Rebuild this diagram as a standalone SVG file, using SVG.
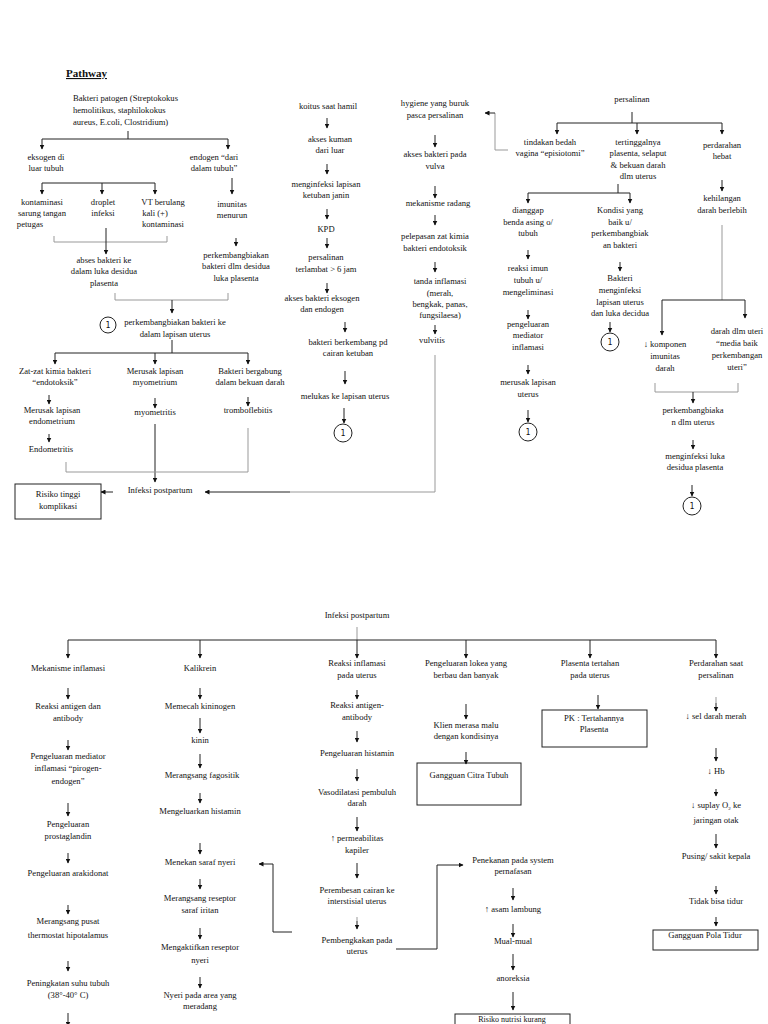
<svg xmlns="http://www.w3.org/2000/svg" width="768" height="1024" viewBox="0 0 768 1024">
<style>
text{font-family:"Liberation Serif","Times New Roman",serif;font-size:8.6px;fill:#111;text-anchor:middle}
.l{text-anchor:start}
.c path,.c line{stroke:#222;stroke-width:1;fill:none}
.a{marker-end:url(#ah)}
.g{stroke:#999!important}
rect{fill:#fff;stroke:#222;stroke-width:1}
circle{fill:#fff;stroke:#222;stroke-width:1}
</style>
<defs><marker id="ah" viewBox="0 0 10 10" refX="9" refY="5" markerWidth="5" markerHeight="5" orient="auto"><path d="M0,0L10,5L0,10z" fill="#111"/></marker></defs>
<rect x="0" y="0" width="768" height="1024" style="stroke:none"/>
<text x="66" y="77" class="l" style="font-size:11px;font-weight:bold;text-decoration:underline">Pathway</text>
<g id="top-left">
<text x="73" y="101" class="l">Bakteri patogen (Streptokokus</text>
<text x="73" y="113" class="l">hemolitikus, staphilokokus</text>
<text x="73" y="125" class="l">aureus, E.coli, Clostridium)</text>
<text x="46" y="160">eksogen di</text><text x="46" y="171">luar tubuh</text>
<text x="214" y="160">endogen “dari</text><text x="214" y="171">dalam tubuh”</text>
<text x="42" y="205">kontaminasi</text><text x="42" y="216">sarung tangan</text><text x="30" y="227">petugas</text>
<text x="103" y="205">droplet</text><text x="103" y="216">infeksi</text>
<text x="163" y="205">VT berulang</text><text x="155" y="216">kali (+)</text><text x="163" y="227">kontaminasi</text>
<text x="232" y="207">imunitas</text><text x="232" y="218">menurun</text>
<text x="104" y="263">abses bakteri ke</text><text x="104" y="274">dalam luka desidua</text><text x="104" y="286">plasenta</text>
<text x="236" y="258">perkembangbiakan</text><text x="236" y="269">bakteri dlm desidua</text><text x="236" y="281">luka plasenta</text>
<circle cx="108" cy="325" r="8"/><text x="108" y="328" style="font-family:'DejaVu Sans Mono',monospace;font-size:8px">1</text>
<text x="175" y="325">perkembangbiakan bakteri ke</text><text x="175" y="337">dalam lapisan uterus</text>
<text x="55" y="374">Zat-zat kimia bakteri</text><text x="55" y="385">“endotoksik”</text>
<text x="155" y="374">Merusak lapisan</text><text x="155" y="385">myometrium</text>
<text x="250" y="374">Bakteri bergabung</text><text x="250" y="385">dalam bekuan darah</text>
<text x="52" y="413">Merusak lapisan</text><text x="52" y="424">endometrium</text>
<text x="51" y="452">Endometritis</text>
<text x="155" y="415">myometritis</text>
<text x="248" y="413">tromboflebitis</text>
<rect x="15" y="484" width="86" height="35"/>
<text x="58" y="497">Risiko tinggi</text><text x="58" y="509">komplikasi</text>
<text x="160" y="493">Infeksi postpartum</text>
</g>
<g id="mid-col">
<text x="328" y="109">koitus saat hamil</text>
<text x="330" y="142">akses kuman</text><text x="330" y="153">dari luar</text>
<text x="326" y="187">menginfeksi lapisan</text><text x="326" y="198">ketuban janin</text>
<text x="326" y="232">KPD</text>
<text x="326" y="260">persalinan</text><text x="326" y="272">terlambat &gt; 6 jam</text>
<text x="322" y="301">akses bakteri eksogen</text><text x="322" y="312">dan endogen</text>
<text x="348" y="345">bakteri berkembang pd</text><text x="348" y="356">cairan ketuban</text>
<text x="345" y="399">melukas ke lapisan uterus</text>
<circle cx="343" cy="433" r="9"/><text x="343" y="436" style="font-family:'DejaVu Sans Mono',monospace;font-size:8px">1</text>
</g>
<g id="hygiene-col">
<text x="435" y="106">hygiene yang buruk</text><text x="435" y="118">pasca persalinan</text>
<text x="435" y="157">akses bakteri pada</text><text x="435" y="169">vulva</text>
<text x="438" y="206">mekanisme radang</text>
<text x="435" y="239">pelepasan zat kimia</text><text x="435" y="251">bakteri endotoksik</text>
<text x="440" y="284">tanda inflamasi</text><text x="440" y="296">(merah,</text><text x="440" y="307">bengkak, panas,</text><text x="440" y="318">fungsilaesa)</text>
<text x="432" y="343">vulvitis</text>
</g>
<g id="persalinan-col">
<text x="632" y="102">persalinan</text>
<text x="550" y="145">tindakan bedah</text><text x="550" y="156">vagina “episiotomi”</text>
<text x="638" y="145">tertinggalnya</text><text x="638" y="156">plasenta, selaput</text><text x="638" y="168">&amp; bekuan darah</text><text x="638" y="179">dlm uterus</text>
<text x="722" y="148">perdarahan</text><text x="722" y="159">hebat</text>
<text x="528" y="213">dianggap</text><text x="528" y="225">benda asing o/</text><text x="528" y="236">tubuh</text>
<text x="620" y="213">Kondisi yang</text><text x="620" y="225">baik u/</text><text x="620" y="236">perkembangbiak</text><text x="620" y="248">an bakteri</text>
<text x="528" y="271">reaksi imun</text><text x="528" y="283">tubuh u/</text><text x="528" y="295">mengeliminasi</text>
<text x="528" y="327">pengeluaran</text><text x="528" y="338">mediator</text><text x="528" y="350">inflamasi</text>
<text x="528" y="385">merusak lapisan</text><text x="528" y="397">uterus</text>
<circle cx="528" cy="432" r="9"/><text x="528" y="435" style="font-family:'DejaVu Sans Mono',monospace;font-size:8px">1</text>
<text x="620" y="281">Bakteri</text><text x="620" y="293">menginfeksi</text><text x="620" y="305">lapisan uterus</text><text x="620" y="316">dan luka decidua</text>
<circle cx="610" cy="342" r="9"/><text x="610" y="345" style="font-family:'DejaVu Sans Mono',monospace;font-size:8px">1</text>
<text x="722" y="201">kehilangan</text><text x="722" y="213">darah berlebih</text>
<text x="665" y="347">↓ komponen</text><text x="665" y="359">imunitas</text><text x="665" y="371">darah</text>
<text x="737" y="334">darah dlm uteri</text><text x="737" y="346">“media baik</text><text x="737" y="358">perkembangan</text><text x="737" y="370">uteri”</text>
<text x="693" y="413">perkembangbiaka</text><text x="693" y="425">n dlm uterus</text>
<text x="695" y="459">menginfeksi luka</text><text x="695" y="470">desidua plasenta</text>
<circle cx="692" cy="506" r="9"/><text x="692" y="509" style="font-family:'DejaVu Sans Mono',monospace;font-size:8px">1</text>
</g>
<g id="bottom">
<text x="357" y="618">Infeksi postpartum</text>
<text x="68" y="671">Mekanisme inflamasi</text>
<text x="68" y="709">Reaksi antigen dan</text><text x="68" y="721">antibody</text>
<text x="68" y="759">Pengeluaran mediator</text><text x="68" y="771">inflamasi “pirogen-</text><text x="68" y="784">endogen”</text>
<text x="68" y="827">Pengeluaran</text><text x="68" y="839">prostaglandin</text>
<text x="68" y="876">Pengeluaran arakidonat</text>
<text x="68" y="924">Merangsang pusat</text><text x="68" y="938">thermostat hipotalamus</text>
<text x="68" y="986">Peningkatan suhu tubuh</text><text x="68" y="998">(38°-40° C)</text>
<text x="200" y="671">Kalikrein</text>
<text x="200" y="709">Memecah kininogen</text>
<text x="200" y="743">kinin</text>
<text x="202" y="778">Merangsang fagositik</text>
<text x="200" y="814">Mengeluarkan histamin</text>
<text x="200" y="865">Menekan saraf nyeri</text>
<text x="200" y="901">Merangsang reseptor</text><text x="200" y="913">saraf iritan</text>
<text x="200" y="950">Mengaktifkan reseptor</text><text x="200" y="963">nyeri</text>
<text x="200" y="998">Nyeri pada area yang</text><text x="200" y="1009">meradang</text>
<text x="357" y="666">Reaksi inflamasi</text><text x="357" y="678">pada uterus</text>
<text x="357" y="708">Reaksi antigen-</text><text x="357" y="720">antibody</text>
<text x="357" y="756">Pengeluaran histamin</text>
<text x="357" y="795">Vasodilatasi pembuluh</text><text x="357" y="806">darah</text>
<text x="357" y="841">↑ permeabilitas</text><text x="357" y="853">kapiler</text>
<text x="357" y="893">Perembesan cairan ke</text><text x="357" y="904">interstisial uterus</text>
<text x="357" y="943">Pembengkakan pada</text><text x="357" y="954">uterus</text>
<text x="466" y="666">Pengeluaran lokea yang</text><text x="466" y="678">berbau dan banyak</text>
<text x="466" y="728">Klien merasa malu</text><text x="466" y="739">dengan kondisinya</text>
<rect x="417" y="763" width="104" height="42"/><text x="469" y="778">Gangguan Citra Tubuh</text>
<text x="590" y="666">Plasenta tertahan</text><text x="590" y="678">pada uterus</text>
<rect x="542" y="710" width="105" height="37"/><text x="594" y="721">PK : Tertahannya</text><text x="594" y="732">Plasenta</text>
<text x="716" y="666">Perdarahan saat</text><text x="716" y="678">persalinan</text>
<text x="716" y="719">↓ sel darah merah</text>
<text x="716" y="774">↓ Hb</text>
<text x="716" y="808">↓ suplay O<tspan dy="2" style="font-size:5px">2</tspan><tspan dy="-2"> ke</tspan></text><text x="716" y="823">jaringan otak</text>
<text x="716" y="859">Pusing/ sakit kepala</text>
<text x="716" y="904">Tidak bisa tidur</text>
<rect x="653" y="930" width="105" height="20"/><text x="705" y="938">Gangguan Pola Tidur</text>
<text x="513" y="863">Penekanan pada system</text><text x="513" y="874">pernafasan</text>
<text x="513" y="912">↑ asam lambung</text>
<text x="513" y="944">Mual-mual</text>
<text x="513" y="981">anoreksia</text>
<rect x="455" y="1014" width="115" height="20"/><text x="512" y="1022" style="font-size:8px">Risiko nutrisi kurang</text>
</g>
<g id="connectors" class="c">
<path d="M128,131V139M42,139H228"/>
<path class="a" d="M42,139V149"/><path class="a" d="M228,139V149"/>
<path d="M42,183H155"/>
<path class="a" d="M42,183V194"/><path class="a" d="M102,183V194"/><path class="a" d="M155,183V194"/>
<path class="a" d="M232,178V194"/>
<path class="g" d="M54,236V242H167V236"/><path class="a" d="M106,228V254"/>
<path class="a" d="M236,238V246"/>
<path class="g" d="M115,293V300H228V293"/><path class="a" d="M172,300V313"/>
<path d="M172,340V353M55,353H248"/>
<path class="a" d="M55,353V364"/><path class="a" d="M155,353V364"/><path class="a" d="M248,353V364"/>
<path class="a" d="M49,395V404"/><path class="a" d="M49,434V442"/>
<path class="a" d="M155,398V408"/><path class="a" d="M248,397V406"/>
<path class="a" d="M155,424V482"/>
<path class="g" d="M66,462V472H248V428"/>
<path class="a" d="M113,492H101"/>
<path class="g" d="M435,355V492H290"/><path class="a" d="M290,492H205"/>
<path class="a" d="M327,118V128"/><path class="a" d="M327,164V174"/><path class="a" d="M327,209V219"/>
<path class="a" d="M327,238V248"/><path class="a" d="M327,283V293"/><path class="a" d="M345,322V332"/>
<path class="a" d="M345,371V384"/><path class="a" d="M344,408V423"/>
<path class="a" d="M435,135V147"/><path class="a" d="M435,186V198"/><path class="a" d="M435,215V225"/>
<path class="a" d="M435,262V272"/><path class="a" d="M435,325V334"/>
<path d="M632,112V123M557,123H722"/>
<path class="a" d="M557,123V134"/><path class="a" d="M637,123V134"/><path class="a" d="M722,123V134"/>
<path class="g" d="M508,150H495V113"/><path class="a" d="M495,113H485"/>
<path d="M618,184V193M528,193H630"/>
<path class="a" d="M528,193V203"/><path class="a" d="M630,193V203"/>
<path class="a" d="M528,250V259"/><path class="a" d="M528,310V319"/><path class="a" d="M528,365V374"/><path class="a" d="M528,410V422"/>
<path class="a" d="M620,262V271"/><path class="a" d="M610,322V332"/>
<path class="a" d="M722,180V191"/>
<path class="g" d="M722,225V300"/><path d="M662,300H745"/>
<path class="a" d="M662,300V335"/><path class="a" d="M745,300V318"/>
<path class="g" d="M655,383V392H738V383"/><path class="a" d="M693,392V403"/>
<path class="a" d="M693,440V449"/><path class="a" d="M692,485V496"/>
<path class="g" d="M357,627V640"/><path d="M68,640H716"/>
<path class="a" d="M68,640V658"/><path class="a" d="M200,640V658"/><path class="a" d="M357,640V658"/>
<path class="a" d="M466,640V658"/><path class="a" d="M590,640V658"/><path class="a" d="M716,640V658"/>
<path class="a" d="M68,688V699"/><path class="a" d="M68,740V750"/><path class="a" d="M68,803V816"/>
<path class="a" d="M68,853V863"/><path class="a" d="M68,905V914"/><path class="a" d="M68,961V971"/><path class="a" d="M68,1013V1026"/>
<path class="a" d="M200,688V699"/><path class="a" d="M200,718V733"/><path class="a" d="M200,754V768"/>
<path class="a" d="M200,793V803"/><path class="a" d="M200,843V854"/><path class="a" d="M200,879V889"/>
<path class="a" d="M200,928V939"/><path class="a" d="M200,977V988"/>
<path class="a" d="M357,690V699"/><path class="a" d="M357,731V742"/><path class="a" d="M357,769V781"/>
<path class="a" d="M357,817V831"/><path class="a" d="M357,863V878"/><path class="g" d="M357,917V921"/><path class="a" d="M357,921V929"/>
<path d="M292,932H273V864"/><path class="a" d="M273,864H259"/>
<path d="M396,949H437V865"/><path class="a" d="M437,865H463"/>
<path class="a" d="M466,704V719"/><path class="a" d="M466,752V764"/>
<path class="a" d="M598,695V709"/>
<path class="g" d="M716,697V703"/><path class="a" d="M716,703V711"/><path class="a" d="M716,748V761"/>
<path class="a" d="M716,789V796"/><path class="a" d="M716,834V848"/><path class="a" d="M716,886V894"/><path class="a" d="M716,917V926"/>
<path class="a" d="M513,888V900"/><path class="a" d="M513,924V937"/><path class="a" d="M513,954V970"/><path class="a" d="M513,992V1010"/>
</g>
</svg>
